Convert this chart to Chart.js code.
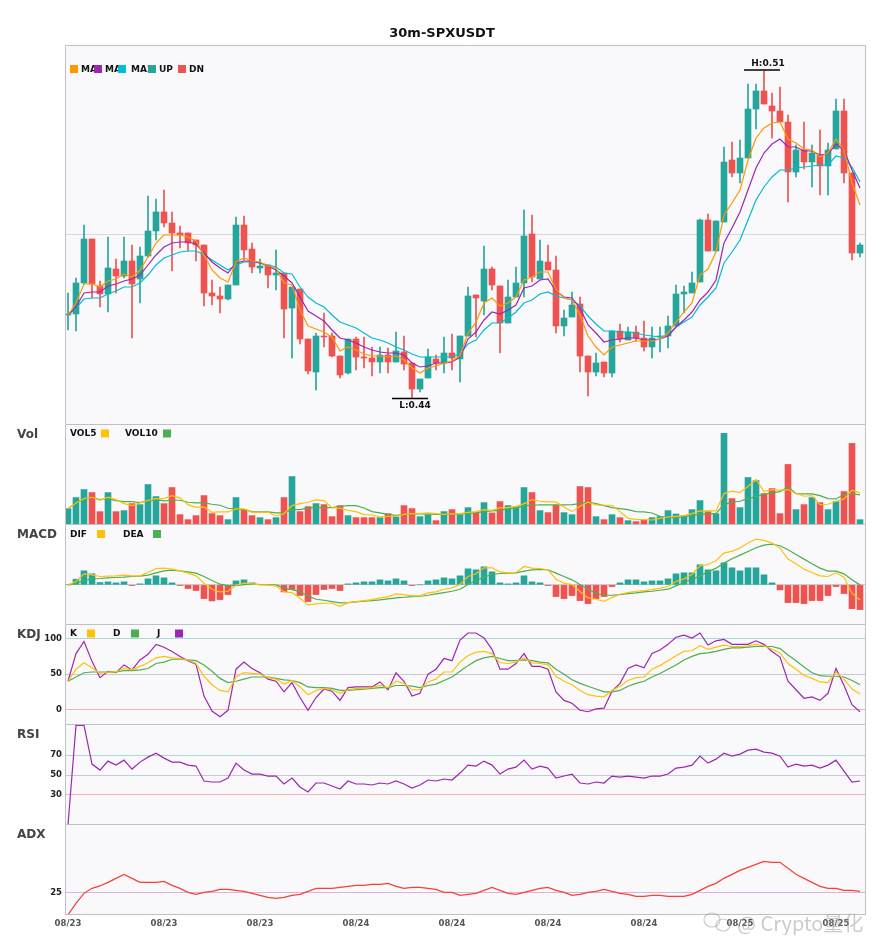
<!DOCTYPE html>
<html>
<head>
<meta charset="utf-8">
<script src="https://cdn.jsdelivr.net/npm/chart.js@4.4.1/dist/chart.umd.min.js"></script>
<style>
  body { margin: 0; background: #fff; }
  #wrap { position: relative; width: 885px; height: 950px; }
  canvas { position: absolute; left: 0; }
</style>
</head>
<body>
<div id="wrap">
  <canvas id="main" width="885" height="424" style="top:0px"></canvas>
  <canvas id="vol" width="885" height="100" style="top:424px"></canvas>
  <canvas id="macd" width="885" height="100" style="top:524px"></canvas>
  <canvas id="kdj" width="885" height="100" style="top:624px"></canvas>
  <canvas id="rsi" width="885" height="100" style="top:724px"></canvas>
  <canvas id="adx" width="885" height="111" style="top:824px"></canvas>
</div>
<script>
// ---- data (30m candles, 08/23 - 08/25) ----
const tickIdx = [0, 12, 24, 36, 48, 60, 72, 84, 96];
const tickLabels = ['08/23', '08/23', '08/23', '08/24', '08/24', '08/24', '08/24', '08/25', '08/25'];

const opens = [
  0.4570,0.4572,0.4634,0.4722,0.4628,0.4612,0.4662,0.4648,0.4678,0.4642,
  0.4688,0.4738,0.4776,0.4754,0.4734,0.4734,0.4720,0.4710,0.4614,0.4608,
  0.4602,0.4630,0.4750,0.4702,0.4664,0.4670,0.4650,0.4654,0.4584,0.4622,
  0.4522,0.4456,0.4528,0.4528,0.4488,0.4454,0.4522,0.4486,0.4484,0.4476,
  0.4490,0.4476,0.4496,0.4474,0.4422,0.4444,0.4482,0.4474,0.4494,0.4482,
  0.4528,0.4610,0.4598,0.4662,0.4628,0.4554,0.4606,0.4634,0.4732,0.4642,
  0.4676,0.4660,0.4548,0.4566,0.4592,0.4488,0.4456,0.4476,0.4454,0.4538,
  0.4520,0.4536,0.4524,0.4506,0.4526,0.4528,0.4548,0.4612,0.4614,0.4636,
  0.4760,0.4698,0.4756,0.4880,0.4854,0.4884,0.4982,0.5018,0.4988,0.4978,
  0.4956,0.4856,0.4900,0.4876,0.4890,0.4868,0.4902,0.4978,0.4854,0.4694
];
const highs = [
  0.4614,0.4644,0.4750,0.4722,0.4638,0.4726,0.4682,0.4726,0.4710,0.4706,
  0.4808,0.4802,0.4820,0.4776,0.4748,0.4734,0.4720,0.4710,0.4640,0.4626,
  0.4630,0.4766,0.4768,0.4714,0.4682,0.4670,0.4700,0.4654,0.4626,0.4622,
  0.4522,0.4534,0.4574,0.4534,0.4488,0.4522,0.4526,0.4526,0.4506,0.4506,
  0.4504,0.4536,0.4528,0.4474,0.4442,0.4502,0.4490,0.4526,0.4532,0.4528,
  0.4626,0.4610,0.4708,0.4666,0.4628,0.4640,0.4666,0.4780,0.4770,0.4720,
  0.4710,0.4688,0.4580,0.4616,0.4606,0.4488,0.4494,0.4476,0.4538,0.4552,
  0.4546,0.4548,0.4558,0.4546,0.4546,0.4568,0.4630,0.4628,0.4656,0.4762,
  0.4772,0.4758,0.4906,0.4916,0.4920,0.5032,0.5032,0.5058,0.5014,0.5026,
  0.4970,0.4910,0.4956,0.4910,0.4940,0.4914,0.5002,0.5002,0.4854,0.4714
];
const lows = [
  0.4540,0.4538,0.4632,0.4604,0.4586,0.4576,0.4614,0.4644,0.4524,0.4594,
  0.4686,0.4720,0.4746,0.4658,0.4704,0.4698,0.4678,0.4588,0.4590,0.4574,
  0.4600,0.4630,0.4680,0.4654,0.4654,0.4624,0.4620,0.4524,0.4484,0.4512,
  0.4452,0.4420,0.4506,0.4486,0.4444,0.4452,0.4460,0.4464,0.4448,0.4454,
  0.4454,0.4476,0.4460,0.4404,0.4416,0.4444,0.4460,0.4454,0.4460,0.4436,
  0.4528,0.4526,0.4570,0.4620,0.4494,0.4554,0.4606,0.4606,0.4636,0.4642,
  0.4660,0.4534,0.4528,0.4566,0.4456,0.4408,0.4448,0.4446,0.4446,0.4516,
  0.4520,0.4518,0.4498,0.4484,0.4496,0.4504,0.4548,0.4574,0.4614,0.4636,
  0.4698,0.4698,0.4756,0.4846,0.4834,0.4884,0.4942,0.4992,0.4924,0.4956,
  0.4796,0.4846,0.4862,0.4826,0.4810,0.4810,0.4902,0.4834,0.4680,0.4686
];
const closes = [
  0.4572,0.4634,0.4722,0.4632,0.4612,0.4664,0.4648,0.4678,0.4632,0.4688,
  0.4738,0.4776,0.4754,0.4734,0.4730,0.4714,0.4710,0.4614,0.4608,0.4602,
  0.4630,0.4750,0.4700,0.4666,0.4668,0.4650,0.4654,0.4582,0.4626,0.4522,
  0.4458,0.4528,0.4526,0.4488,0.4450,0.4522,0.4486,0.4484,0.4476,0.4490,
  0.4476,0.4498,0.4472,0.4422,0.4442,0.4486,0.4474,0.4494,0.4484,0.4528,
  0.4608,0.4604,0.4662,0.4630,0.4554,0.4606,0.4634,0.4728,0.4646,0.4678,
  0.4660,0.4548,0.4564,0.4590,0.4488,0.4456,0.4474,0.4454,0.4538,0.4522,
  0.4536,0.4524,0.4506,0.4524,0.4528,0.4548,0.4612,0.4616,0.4634,0.4760,
  0.4698,0.4758,0.4876,0.4854,0.4884,0.4982,0.5018,0.4992,0.4978,0.4956,
  0.4856,0.4900,0.4876,0.4894,0.4868,0.4900,0.4978,0.4854,0.4694,0.4710
];
const ma5 = [
  0.4570,0.4594,0.4632,0.4632,0.4626,0.4638,0.4642,0.4652,0.4646,0.4660,
  0.4686,0.4714,0.4730,0.4730,0.4730,0.4726,0.4718,0.4690,0.4660,0.4644,
  0.4636,0.4676,0.4684,0.4678,0.4676,0.4668,0.4664,0.4634,0.4630,0.4580,
  0.4548,0.4542,0.4536,0.4526,0.4498,0.4506,0.4500,0.4492,0.4488,0.4488,
  0.4486,0.4488,0.4480,0.4464,0.4454,0.4464,0.4468,0.4474,0.4478,0.4488,
  0.4534,0.4556,0.4594,0.4604,0.4588,0.4594,0.4606,0.4640,0.4646,0.4656,
  0.4656,0.4620,0.4604,0.4600,0.4570,0.4528,0.4506,0.4490,0.4506,0.4510,
  0.4514,0.4518,0.4518,0.4518,0.4522,0.4534,0.4556,0.4576,0.4594,0.4650,
  0.4662,0.4696,0.4770,0.4794,0.4820,0.4880,0.4924,0.4944,0.4954,0.4956,
  0.4922,0.4914,0.4902,0.4900,0.4886,0.4894,0.4922,0.4900,0.4834,0.4790
];
const ma10 = [
  0.4570,0.4586,0.4614,0.4616,0.4616,0.4628,0.4632,0.4638,0.4642,0.4650,
  0.4670,0.4690,0.4706,0.4714,0.4716,0.4716,0.4712,0.4694,0.4676,0.4664,
  0.4654,0.4674,0.4678,0.4678,0.4674,0.4668,0.4660,0.4648,0.4634,0.4606,
  0.4578,0.4568,0.4558,0.4540,0.4524,0.4520,0.4514,0.4506,0.4500,0.4496,
  0.4494,0.4494,0.4490,0.4474,0.4466,0.4468,0.4474,0.4474,0.4476,0.4486,
  0.4522,0.4536,0.4560,0.4576,0.4572,0.4580,0.4590,0.4624,0.4628,0.4640,
  0.4642,0.4618,0.4606,0.4604,0.4584,0.4550,0.4534,0.4516,0.4520,0.4522,
  0.4524,0.4524,0.4520,0.4520,0.4522,0.4528,0.4546,0.4560,0.4576,0.4600,
  0.4616,0.4640,0.4714,0.4744,0.4776,0.4820,0.4864,0.4894,0.4912,0.4922,
  0.4906,0.4906,0.4898,0.4898,0.4890,0.4892,0.4912,0.4900,0.4860,0.4824
];
const ma20 = [
  0.4570,0.4584,0.4602,0.4604,0.4604,0.4612,0.4618,0.4626,0.4626,0.4634,
  0.4650,0.4670,0.4684,0.4690,0.4696,0.4698,0.4698,0.4690,0.4680,0.4670,
  0.4660,0.4670,0.4676,0.4676,0.4674,0.4670,0.4666,0.4654,0.4652,0.4626,
  0.4606,0.4594,0.4586,0.4570,0.4556,0.4550,0.4544,0.4534,0.4524,0.4520,
  0.4514,0.4506,0.4500,0.4492,0.4486,0.4486,0.4486,0.4486,0.4486,0.4492,
  0.4512,0.4520,0.4540,0.4554,0.4554,0.4564,0.4576,0.4594,0.4600,0.4612,
  0.4616,0.4608,0.4604,0.4600,0.4588,0.4568,0.4552,0.4538,0.4538,0.4536,
  0.4536,0.4534,0.4530,0.4528,0.4526,0.4530,0.4546,0.4556,0.4566,0.4590,
  0.4606,0.4624,0.4674,0.4696,0.4720,0.4760,0.4800,0.4826,0.4846,0.4860,
  0.4860,0.4864,0.4866,0.4868,0.4870,0.4870,0.4888,0.4884,0.4866,0.4836
];
const volumes = [
  46,79,103,94,37,94,37,40,61,58,
  118,82,61,109,28,13,25,85,31,25,
  13,79,43,25,19,13,19,79,142,37,
  52,61,58,22,55,25,19,19,19,19,
  31,21,55,46,22,28,10,37,43,28,
  49,33,64,33,67,55,52,109,94,40,
  34,56,34,28,112,109,22,13,28,19,
  10,7,13,19,22,40,30,25,43,70,
  37,31,271,76,49,139,130,91,106,31,
  178,43,58,79,64,43,67,97,241,13
];
const vol5 = [
  46,63,76,80,71,80,73,61,55,63,
  71,76,76,85,78,58,50,51,35,36,
  36,45,45,35,35,35,24,31,55,61,
  65,72,70,49,47,41,37,28,27,21,
  23,23,29,31,31,33,31,29,30,31,
  35,37,43,41,49,49,52,61,73,68,
  66,66,51,37,53,65,57,56,56,37,
  17,14,13,12,17,21,23,25,31,39,
  39,39,91,98,94,112,133,97,103,101,
  103,91,83,85,58,59,68,75,101,93
];
const vol10 = [
  46,63,75,80,73,76,70,67,67,64,
  70,73,69,71,71,65,63,63,59,56,
  47,45,43,37,36,36,33,33,43,43,
  48,49,49,49,53,55,55,48,37,33,
  29,26,28,30,30,30,29,28,29,30,
  32,34,37,39,41,45,48,54,56,57,
  57,57,57,58,61,66,61,55,49,46,
  43,37,36,33,23,19,19,23,26,29,
  30,32,58,65,68,76,82,89,93,97,
  111,91,90,90,85,76,75,88,91,87
];
const macdHist = [
  0,17,42,33,7,9,6,9,-2,3,
  18,27,21,6,-2,-11,-17,-41,-48,-44,
  -29,12,15,6,1,0,-1,-21,-14,-32,
  -50,-29,-14,-11,-17,3,6,9,9,15,
  12,18,12,-2,0,12,15,21,18,27,
  48,45,54,39,6,3,6,27,9,6,
  -2,-35,-41,-32,-47,-56,-41,-35,-5,6,
  15,15,9,12,12,18,33,36,36,60,
  45,42,66,51,42,51,51,30,6,-15,
  -53,-53,-56,-47,-47,-32,-5,-26,-71,-74
];
const dif = [
  0,10,33,30,25,26,27,29,27,27,
  37,49,50,47,42,35,27,5,-13,-21,
  -19,-1,5,3,1,0,-3,-21,-23,-40,
  -60,-57,-55,-55,-64,-53,-50,-47,-44,-39,
  -36,-27,-29,-33,-33,-24,-21,-13,-9,1,
  25,33,51,51,39,36,37,55,50,49,
  45,17,5,1,-20,-39,-43,-49,-38,-28,
  -23,-19,-17,-14,-10,-5,10,18,32,57,
  61,72,95,101,110,125,137,133,125,110,
  77,63,47,37,27,25,36,23,-25,-45
];
const dea = [
  0,5,13,18,19,21,22,23,25,26,
  29,36,42,44,42,39,35,25,13,2,
  -2,-2,1,2,1,1,-1,-10,-14,-20,
  -33,-43,-46,-50,-54,-53,-51,-49,-47,-45,
  -42,-39,-37,-35,-34,-31,-27,-23,-19,-13,
  1,13,23,31,34,35,36,41,45,46,
  45,35,25,15,1,-13,-25,-31,-31,-29,
  -26,-24,-21,-19,-16,-13,-3,7,16,27,
  39,50,65,78,89,100,111,119,122,117,
  105,91,77,63,50,41,41,33,15,0
];
const kLine = [
  40,57,66,59,51,53,53,58,56,61,
  66,73,75,73,72,70,65,47,35,27,
  25,46,52,51,50,45,43,36,41,32,
  21,27,30,28,23,28,30,30,31,34,
  31,40,37,28,28,39,43,53,53,67,
  76,81,82,79,66,65,67,73,66,65,
  63,47,40,35,27,21,19,18,27,33,
  41,45,46,57,62,69,76,82,83,90,
  85,88,91,89,89,90,92,90,85,80,
  65,57,48,44,39,38,53,43,29,22
];
const dLine = [
  40,46,52,53,53,53,53,55,55,56,
  58,65,67,71,71,70,69,63,54,44,
  38,40,43,46,46,46,44,42,41,38,
  32,31,31,30,27,27,28,29,30,31,
  31,34,34,33,31,34,36,41,46,54,
  62,69,73,75,72,69,69,70,69,67,
  66,57,50,42,37,33,29,25,25,27,
  33,37,40,46,51,57,63,70,75,79,
  80,82,85,87,87,88,89,89,89,86,
  77,69,60,52,48,47,47,46,41,35
];
const jLine = [
  40,79,96,68,45,54,52,63,56,70,
  78,92,88,82,75,69,64,19,-2,-10,
  -1,57,67,58,52,43,40,25,38,17,
  -1,17,29,26,13,31,32,32,32,39,
  28,52,40,19,23,50,57,72,69,98,
  108,108,101,85,57,57,65,79,61,61,
  57,25,13,9,-1,-3,1,2,26,37,
  58,63,59,79,84,92,102,105,101,108,
  91,97,99,92,92,92,97,92,82,74,
  40,28,16,18,13,23,58,34,7,-3
];
const rsi = [
  0,100,100,61,55,64,60,65,56,63,
  68,72,67,63,63,60,59,44,43,43,
  47,62,55,51,51,49,49,41,47,38,
  33,42,42,39,36,44,41,41,40,42,
  41,44,41,37,40,45,44,46,45,52,
  60,59,64,60,51,56,58,65,56,59,
  57,47,49,51,42,41,43,42,49,48,
  49,48,47,49,49,51,57,58,60,69,
  62,66,72,69,71,75,76,73,72,69,
  58,61,59,60,57,60,65,54,43,44
];
const adx = [
  13.7,19.5,24.5,27,28.2,30,32,34,32,30,
  30,30,30.5,28.5,27,25,24,25,25.5,26.5,
  26.5,26,25.5,24.5,23.5,22.5,22,22.5,23.5,24,
  25.5,27,27,27,27.5,28,28.5,28.5,29,29,
  29.5,28,27,27.5,27.5,27,26.5,25,25,23.5,
  24,24.5,26,27.5,26,24.5,24,25,26,27,
  27.5,26,25,23.5,24,25,25.5,26.5,25.5,24.5,
  24,23,23,23.5,23.5,23,23,23,24,26,
  28,29.5,32,34,36,37.5,39,40.5,40,40,
  37,34,32,30,28,27,27,26,26,25.5
];

// ---- styling ----
const UP = '#26a69a', DN = '#ef5350';
const FONT = '"DejaVu Sans", sans-serif';
const candleColors = opens.map((o, i) => closes[i] >= o ? UP : DN);
const pts = arr => arr.map((v, i) => ({ x: i, y: v }));

function line(data, color, order) {
  return { type: 'line', data: pts(data), borderColor: color, borderWidth: 1.2,
           pointRadius: 0, tension: 0, order: order || 0 };
}

function decor(cfg) {
  return {
    id: 'decor',
    beforeDraw(chart) {
      const { ctx, chartArea: a } = chart;
      ctx.save();
      ctx.fillStyle = '#f9f9fc';
      ctx.fillRect(a.left, a.top, a.right - a.left, a.bottom - a.top);
      ctx.restore();
    },
    afterDraw(chart) {
      const { ctx, chartArea: a } = chart;
      ctx.save();
      ctx.strokeStyle = '#bfbfc7';
      ctx.lineWidth = 1;
      const L = a.left - 0.5, R = a.right - 0.5, T = a.top + 0.5, B = a.bottom - 0.5;
      ctx.beginPath();
      ctx.moveTo(L, B + 0.5); ctx.lineTo(L, T); ctx.lineTo(R, T); ctx.lineTo(R, B + 0.5);
      if (cfg.bottom) { ctx.moveTo(L, B); ctx.lineTo(R, B); }
      ctx.stroke();

      if (cfg.label) {
        ctx.font = 'bold 12px ' + FONT;
        ctx.fillStyle = '#444';
        ctx.textBaseline = 'middle';
        ctx.textAlign = 'left';
        ctx.fillText(cfg.label, 17, cfg.labelY);
      }
      if (cfg.yTicks) {
        const ys = chart.scales.y;
        ctx.font = 'bold 8.5px ' + FONT;
        ctx.fillStyle = '#222';
        ctx.textAlign = 'right';
        ctx.textBaseline = 'middle';
        cfg.yTicks.forEach(v => ctx.fillText(String(v), 62, ys.getPixelForValue(v)));
        ctx.textAlign = 'left';
      }
      if (cfg.legend) {
        ctx.font = 'bold 9px ' + FONT;
        ctx.textBaseline = 'middle';
        cfg.legend.forEach(it => {
          if (it.box) {
            ctx.fillStyle = it.box;
            ctx.fillRect(it.x, cfg.legendY - 4, 8, 8);
          } else {
            ctx.save();
            if (it.clip) { ctx.beginPath(); ctx.rect(it.x, 0, it.clip, 2000); ctx.clip(); }
            ctx.fillStyle = '#111';
            ctx.fillText(it.text, it.x, cfg.legendY + 0.5);
            ctx.restore();
          }
        });
      }
      if (cfg.extra) cfg.extra(chart, ctx);
      ctx.restore();
    }
  };
}

function xScale(show) {
  const x = {
    type: 'linear', min: -0.25, max: 99.75, offset: false, display: show,
    grid: { display: false, drawTicks: false, offset: false }, border: { display: false },
    afterBuildTicks: s => { s.ticks = tickIdx.map(v => ({ value: v })); },
    ticks: { autoSkip: false, maxRotation: 0, padding: 4, color: '#555',
             font: { family: FONT, size: 8.5, weight: 'bold' },
             callback: v => tickLabels[tickIdx.indexOf(v)] }
  };
  if (show) x.afterFit = s => { s.height = 20; };
  return x;
}

function yScale(min, max, ticks, colors) {
  return {
    min, max,
    afterFit: s => { s.width = 66; },
    afterBuildTicks: s => { s.ticks = ticks.map(v => ({ value: v })); },
    grid: { drawTicks: false, color: c => colors[ticks.indexOf(c.tick.value)] || 'transparent' },
    border: { display: false },
    ticks: { display: false }
  };
}

function baseOptions(x, y, padTop) {
  return {
    responsive: false, animation: false, events: [],
    layout: { padding: { left: 0, right: 19, top: padTop || 0, bottom: 0 } },
    plugins: { legend: { display: false }, tooltip: { enabled: false } },
    scales: { x, y }
  };
}

// ---- price panel ----
const priceMin = 0.4352, priceMax = 0.5110;
const priceMid = (priceMin + priceMax) / 2;

function hiLoMarks(chart, ctx) {
  const xs = chart.scales.x, ys = chart.scales.y;
  const hi = Math.max(...highs), hiIdx = highs.indexOf(hi);
  const lo = Math.min(...lows), loIdx = lows.indexOf(lo);
  ctx.strokeStyle = '#000';
  ctx.fillStyle = '#111';
  ctx.lineWidth = 1.5;
  ctx.font = 'bold 9px ' + FONT;
  ctx.textAlign = 'center';

  let x = xs.getPixelForValue(hiIdx), y = ys.getPixelForValue(hi) - 1;
  ctx.beginPath(); ctx.moveTo(x - 20, y); ctx.lineTo(x + 16, y); ctx.stroke();
  ctx.textBaseline = 'bottom';
  ctx.fillText('H:' + hi.toFixed(2), x + 4, y - 2);

  x = xs.getPixelForValue(loIdx); y = ys.getPixelForValue(lo) + 0.5;
  ctx.beginPath(); ctx.moveTo(x - 20, y); ctx.lineTo(x + 16, y); ctx.stroke();
  ctx.textBaseline = 'top';
  ctx.fillText('L:' + lo.toFixed(2), x + 3, y + 3);

  ctx.font = 'bold 13px ' + FONT;
  ctx.textBaseline = 'middle';
  ctx.fillText('30m-SPXUSDT', 442, 34);
}

new Chart(document.getElementById('main'), {
  type: 'bar',
  data: {
    datasets: [
      { data: lows.map((l, i) => ({ x: i, y: [l, highs[i]] })), backgroundColor: candleColors,
        barThickness: 1, grouped: false, order: 3 },
      { data: opens.map((o, i) => ({ x: i, y: [o, closes[i]] })), backgroundColor: candleColors,
        barThickness: 6, grouped: false, minBarLength: 1, order: 2 },
      line(ma5, '#ff9800'), line(ma10, '#9c27b0'), line(ma20, '#00bcd4')
    ]
  },
  options: baseOptions(xScale(false), yScale(priceMin, priceMax, [priceMid], ['#d8d8e0']), 45),
  plugins: [decor({
    legendY: 69,
    legend: [
      { box: '#ff9800', x: 70 }, { text: 'MA5', x: 81, clip: 13 },
      { box: '#9c27b0', x: 94 }, { text: 'MA10', x: 105, clip: 13 },
      { box: '#00bcd4', x: 118 }, { text: 'MA20', x: 131, clip: 17 },
      { box: UP, x: 148 }, { text: 'UP', x: 159 },
      { box: DN, x: 178 }, { text: 'DN', x: 189 }
    ],
    extra: hiLoMarks
  })]
});

// ---- volume ----
new Chart(document.getElementById('vol'), {
  type: 'bar',
  data: {
    datasets: [
      { data: pts(volumes), backgroundColor: candleColors, barThickness: 6, grouped: false, order: 2 },
      line(vol5, '#ffc107'), line(vol10, '#4caf50')
    ]
  },
  options: baseOptions(xScale(false), yScale(0, 299, [], [])),
  plugins: [decor({
    label: 'Vol', labelY: 11, legendY: 9.5,
    legend: [
      { text: 'VOL5', x: 70 }, { box: '#ffc107', x: 101 },
      { text: 'VOL10', x: 125 }, { box: '#4caf50', x: 163 }
    ]
  })]
});

// ---- MACD ----
new Chart(document.getElementById('macd'), {
  type: 'bar',
  data: {
    datasets: [
      { data: pts(macdHist), backgroundColor: macdHist.map(v => v >= 0 ? UP : DN),
        barThickness: 6, grouped: false, order: 2 },
      line(dif, '#ffc107'), line(dea, '#4caf50')
    ]
  },
  options: baseOptions(xScale(false), yScale(-117, 182, [0], ['#c8c8d0'])),
  plugins: [decor({
    label: 'MACD', labelY: 11, legendY: 10,
    legend: [
      { text: 'DIF', x: 70 }, { box: '#ffc107', x: 97 },
      { text: 'DEA', x: 123 }, { box: '#4caf50', x: 153 }
    ]
  })]
});

// ---- KDJ ----
new Chart(document.getElementById('kdj'), {
  type: 'line',
  data: { datasets: [line(kLine, '#ffc107'), line(dLine, '#4caf50'), line(jLine, '#9c27b0')] },
  options: baseOptions(xScale(false),
    yScale(-20.3, 120.7, [0, 50, 100], ['#f6b3b3', '#cacad2', '#a6dbd8'])),
  plugins: [decor({
    label: 'KDJ', labelY: 11, legendY: 9.5, yTicks: [0, 50, 100],
    legend: [
      { text: 'K', x: 70 }, { box: '#ffc107', x: 87 },
      { text: 'D', x: 113 }, { box: '#4caf50', x: 131 },
      { text: 'J', x: 157 }, { box: '#9c27b0', x: 175 }
    ]
  })]
});

// ---- RSI ----
new Chart(document.getElementById('rsi'), {
  type: 'line',
  data: { datasets: [line(rsi, '#9c27b0')] },
  options: baseOptions(xScale(false),
    yScale(0.8, 101.3, [30, 50, 70], ['#f6b3b3', '#cacad2', '#a6dbd8'])),
  plugins: [decor({ label: 'RSI', labelY: 11, yTicks: [30, 50, 70] })]
});

// ---- ADX ----
function watermark(chart, ctx) {
  ctx.globalAlpha = 0.5;
  ctx.strokeStyle = '#999';
  ctx.lineWidth = 1.2;
  ctx.beginPath(); ctx.ellipse(712, 96, 8, 7, 0, 0, Math.PI * 2); ctx.stroke();
  ctx.beginPath(); ctx.ellipse(723, 101, 7, 6, 0, 0, Math.PI * 2); ctx.stroke();
  ctx.fillStyle = '#999';
  ctx.font = '20px "Noto Sans CJK SC", ' + FONT;
  ctx.textAlign = 'left';
  ctx.textBaseline = 'middle';
  ctx.fillText('@ Crypto量化', 737, 99);
}

new Chart(document.getElementById('adx'), {
  type: 'line',
  data: { datasets: [line(adx, '#f44336')] },
  options: baseOptions(xScale(true), yScale(13.67, 59.17, [25], ['#dcb2e6'])),
  plugins: [decor({ label: 'ADX', labelY: 11, yTicks: [25], bottom: true, extra: watermark })]
});
</script>
</body>
</html>
